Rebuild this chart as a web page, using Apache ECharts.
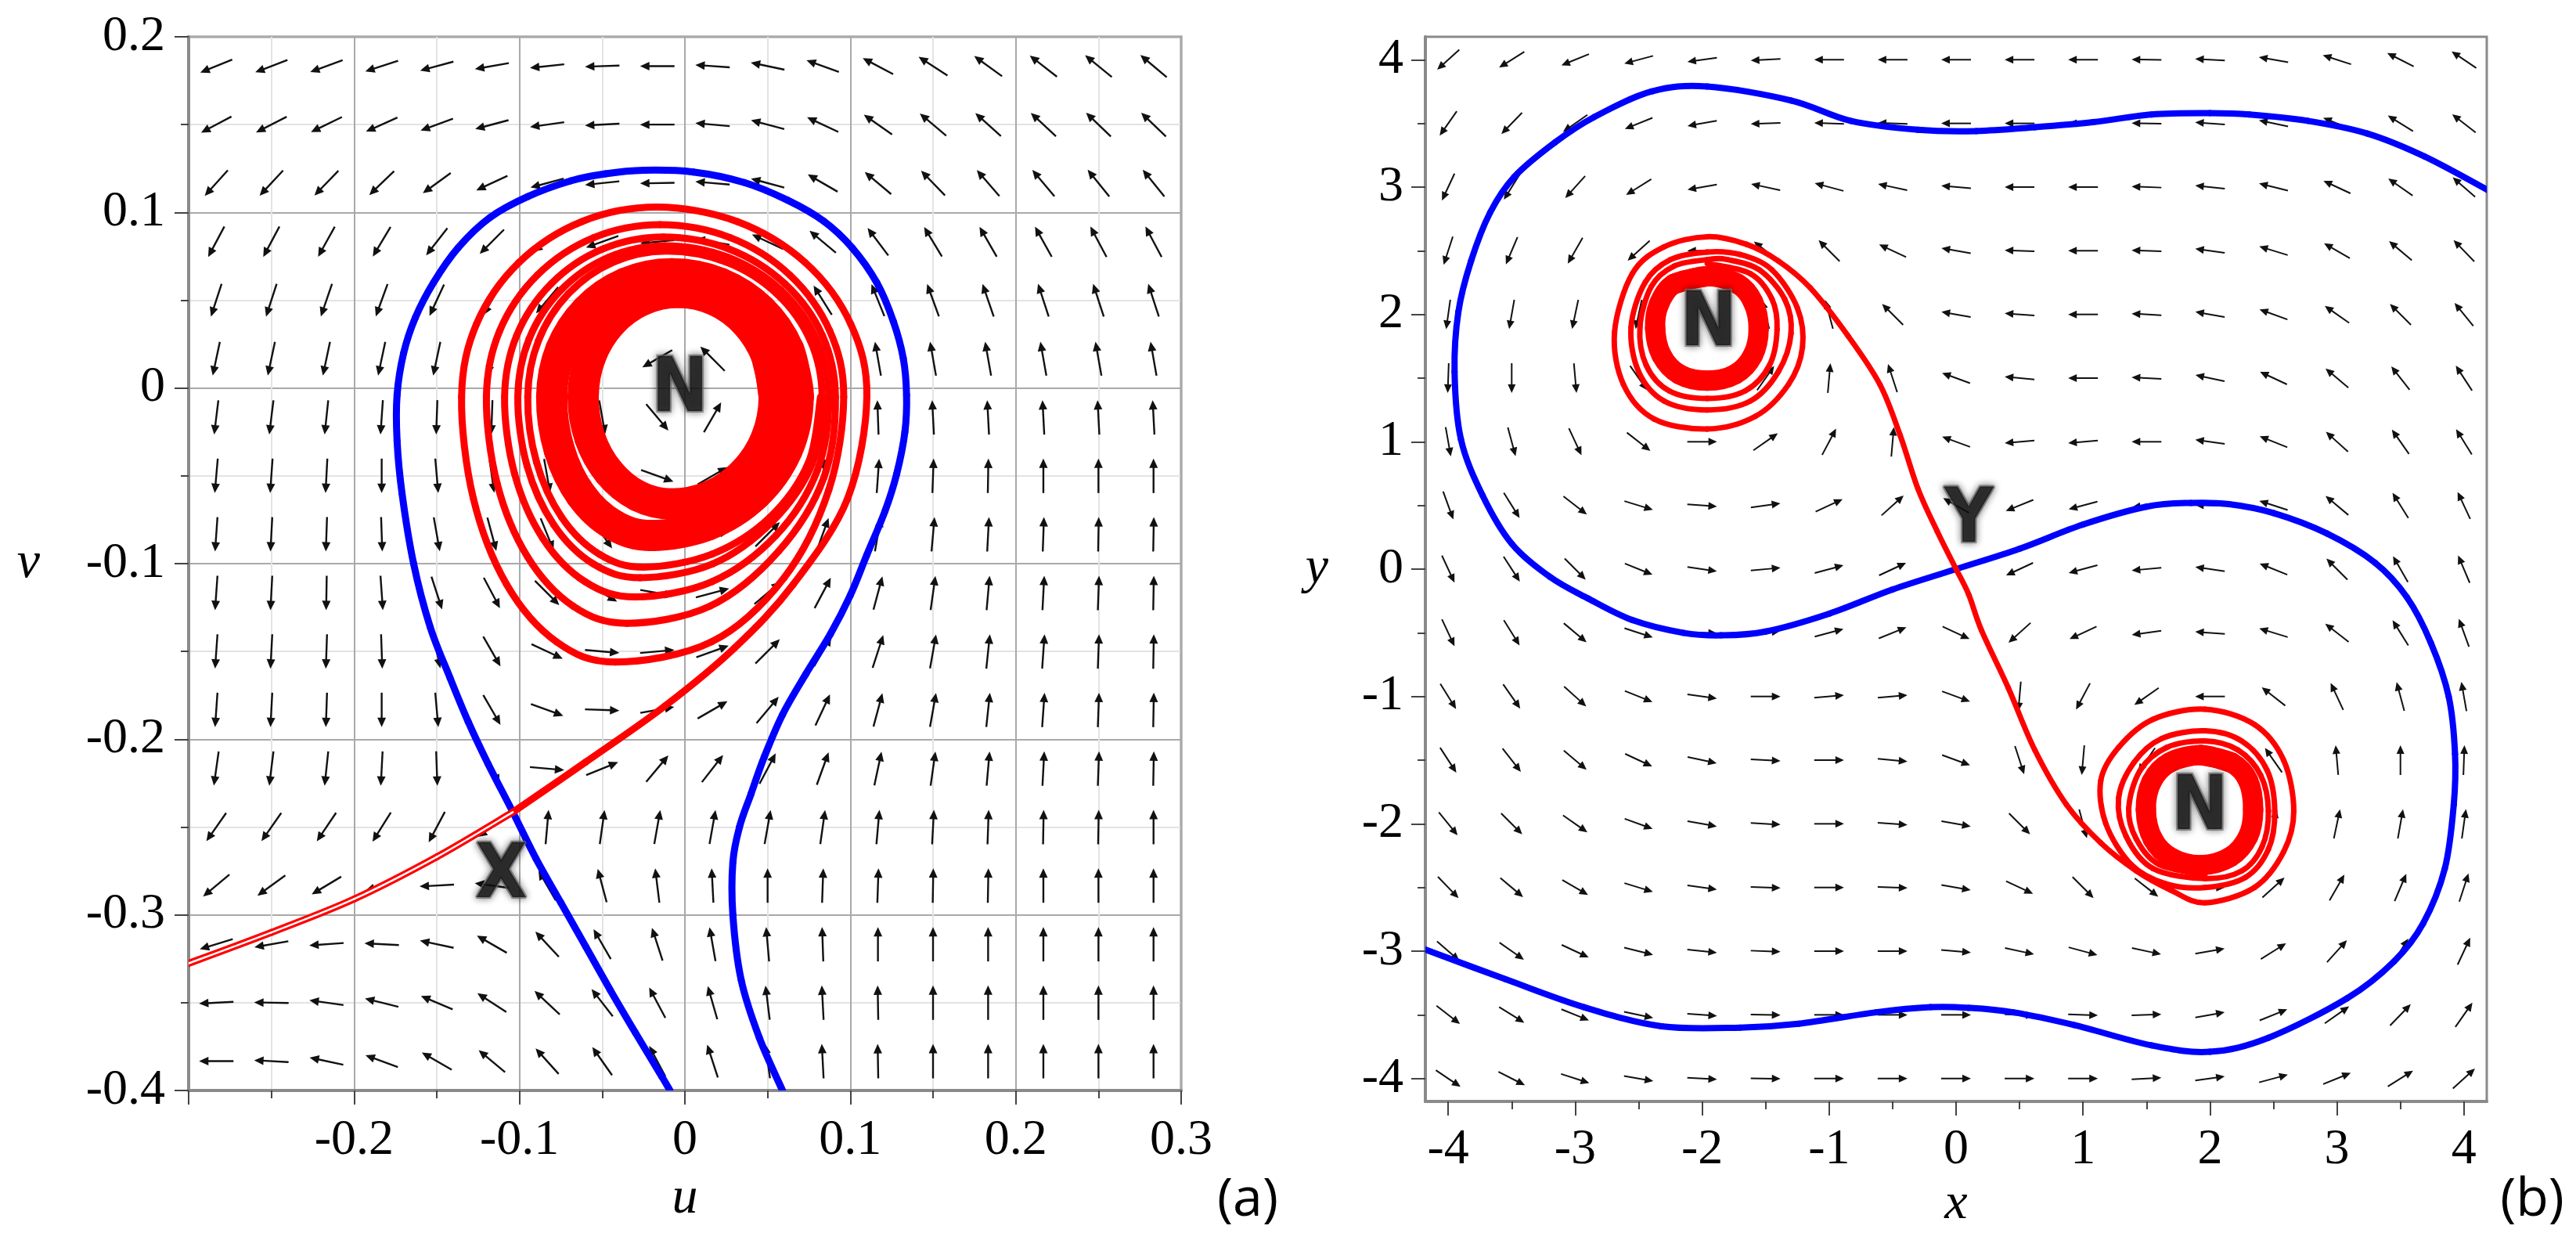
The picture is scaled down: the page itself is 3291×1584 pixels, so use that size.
<!DOCTYPE html>
<html><head><meta charset="utf-8">
<script src="https://cdn.jsdelivr.net/npm/echarts/dist/echarts.min.js"></script>
<style>html,body{margin:0;padding:0;background:#fff}#c{width:3291px;height:1584px}</style>
</head><body><div id="c"></div>
<script>
// ---------------- Panel (a) data ----------------
const uArrowA = [-0.2833,-0.25,-0.2167,-0.1833,-0.15,-0.1167,-0.0833,-0.05,-0.0167,0.0167,0.05,0.0833,0.1167,0.15,0.1833,0.2167,0.25,0.2833];
const vArrowA = [0.1833,0.15,0.1167,0.0833,0.05,0.0167,-0.0167,-0.05,-0.0833,-0.1167,-0.15,-0.1833,-0.2167,-0.25,-0.2833,-0.3167,-0.35,-0.3833];
// arrow direction on screen, degrees (0 = right, 90 = up), rows top->bottom
const angleA = [
[202,201,200,198,195,190,186,182,180,176,168,160,152,147,144,142,141,140],
[208,207,206,204,200,195,188,183,180,175,165,155,145,140,138,137,136,136],
[228,227,226,224,216,205,195,186,181,175,165,150,140,134,131,130,129,129],
[242,242,241,239,232,225,215,200,185,170,155,140,127,121,120,119,118,118],
[252,252,251,250,245,240,230,215,190,165,140,122,112,110,109,108,108,108],
[258,258,258,258,258,255,250,240,210,135,110,100,100,100,100,100,100,100],
[263,263,264,266,268,268,265,280,310,60,80,90,92,93,93,93,93,93],
[265,266,267,270,275,278,280,305,340,30,70,82,86,88,89,90,90,90],
[266,267,268,272,280,285,292,305,330,10,45,70,80,85,87,88,89,89],
[266,267,269,274,288,298,315,330,350,15,40,62,75,82,85,87,88,89],
[266,267,268,272,282,300,335,355,5,20,45,60,72,80,84,86,88,89],
[266,267,268,270,275,300,340,358,10,30,50,65,75,80,84,86,88,89],
[262,263,264,267,272,297,355,22,50,52,62,70,78,82,85,87,88,89],
[235,235,236,238,242,215,85,82,80,80,80,82,85,87,88,89,89,90],
[220,216,211,198,183,172,120,105,97,93,90,88,88,89,89,90,90,90],
[197,190,184,177,168,150,133,120,108,100,95,92,90,90,90,90,90,90],
[183,179,172,166,157,147,137,128,118,106,97,93,91,90,90,90,90,90],
[180,177,168,160,150,140,132,125,118,108,98,93,91,90,90,90,90,90]
];
const blueA = [[0.059,-0.400],[0.045,-0.370],[0.034,-0.337],[0.029,-0.300],[0.029,-0.270],[0.033,-0.250],[0.040,-0.231],[0.048,-0.210],[0.059,-0.186],[0.073,-0.163],[0.088,-0.140],[0.100,-0.118],[0.110,-0.095],[0.121,-0.070],[0.128,-0.049],[0.133,-0.025],[0.134,-0.004],[0.132,0.017],[0.126,0.038],[0.116,0.060],[0.101,0.080],[0.084,0.095],[0.062,0.107],[0.036,0.117],[0.005,0.123],[-0.025,0.124],[-0.048,0.122],[-0.069,0.118],[-0.095,0.109],[-0.118,0.097],[-0.137,0.080],[-0.152,0.060],[-0.163,0.040],[-0.170,0.020],[-0.174,-0.004],[-0.174,-0.030],[-0.171,-0.060],[-0.164,-0.100],[-0.154,-0.136],[-0.142,-0.165],[-0.131,-0.190],[-0.119,-0.214],[-0.104,-0.2415],[-0.090,-0.268],[-0.075,-0.293],[-0.060,-0.318],[-0.045,-0.343],[-0.030,-0.367],[-0.014,-0.392],[-0.009,-0.400]];
const redLeftA = [[-0.304,-0.329],[-0.250,-0.310],[-0.200,-0.291],[-0.150,-0.267],[-0.104,-0.2415]];
const redSpiralA = [[-0.104,-0.2415],[-0.060,-0.213],[-0.012,-0.181],[0.030,-0.148],[0.0655,-0.1118],[0.0984,-0.0628],
[0.110,-0.005],[0.1003,0.0364],[0.0728,0.0714],[0.0316,0.0948],[-0.017,0.103],[-0.0622,0.0948],[-0.1004,0.0714],[-0.126,0.0364],[-0.135,-0.005],[-0.1279,-0.0628],[-0.1078,-0.1118],[-0.0776,-0.1445],[-0.042,-0.156],[0.0162,-0.1445],[0.0600,-0.108],[0.087,-0.058],
[0.096,-0.005],[0.0876,0.0325],[0.0635,0.0643],[0.0275,0.0856],[-0.015,0.093],[-0.0552,0.0856],[-0.0892,0.0643],[-0.112,0.0325],[-0.120,-0.005],[-0.1135,-0.0544],[-0.0951,-0.0962],[-0.0676,-0.1242],[-0.035,-0.134],[0.0152,-0.1242],[0.0566,-0.093],[0.084,-0.051],
[0.091,-0.005],[0.0831,0.0299],[0.0605,0.0593],[0.0268,0.0791],[-0.013,0.086],[-0.0498,0.0791],[-0.0809,0.0593],[-0.1017,0.0299],[-0.109,-0.005],[-0.103,-0.0487],[-0.0859,-0.0856],[-0.0603,-0.1103],[-0.030,-0.119],[0.0163,-0.1103],[0.0550,-0.084],[0.080,-0.047],
[0.087,-0.005],[0.0795,0.0279],[0.058,0.0558],[0.0259,0.0745],[-0.012,0.081],[-0.0461,0.0745],[-0.0749,0.0558],[-0.0942,0.0279],[-0.101,-0.005],[-0.0954,-0.0444],[-0.0793,-0.0778],[-0.0553,-0.1002],[-0.027,-0.108],[0.0167,-0.1002],[0.0530,-0.076],[0.077,-0.043],
[0.083,-0.005],[0.0759,0.0268],[0.0555,0.0537],[0.025,0.0717],[-0.011,0.078],[-0.0432,0.0717],[-0.0704,0.0537],[-0.0886,0.0268],[-0.095,-0.005],[-0.0897,-0.0422],[-0.0745,-0.0736],[-0.0518,-0.0946],[-0.025,-0.102],[0.0164,-0.0946],[0.0514,-0.0736],[0.0748,-0.0422],[0.082,-0.005]];
const bandOuterA = [[0.0685,-0.005],[0.0627,0.0218],[0.0461,0.0445],[0.0213,0.0597],[-0.008,0.065],[-0.0358,0.0597],[-0.0593,0.0445],[-0.075,0.0218],[-0.0805,-0.005],[-0.0759,-0.0353],[-0.0628,-0.0609],[-0.0432,-0.078],[-0.020,-0.084],[0.0139,-0.078],[0.0426,-0.0609],[0.0618,-0.0353],[0.0685,-0.005],[0.0627,0.0218]];
const bandInnerA = [[0.054,-0.005],[0.0496,0.0178],[0.037,0.0371],[0.0182,0.050],[-0.004,0.0545],[-0.026,0.050],[-0.0447,0.0371],[-0.0571,0.0178],[-0.0615,-0.005],[-0.0574,-0.0284],[-0.0458,-0.0481],[-0.0285,-0.0614],[-0.008,-0.066],[0.0157,-0.0614],[0.0358,-0.0481],[0.0493,-0.0284],[0.054,-0.005],[0.0496,0.0178]];
const labelTextA = ['N','X'];
const labelPosA = [[-0.003,-0.002],[-0.111,-0.279]];

// ---------------- Panel (b) data ----------------
const xArrowB = [-4,-3.5,-3,-2.5,-2,-1.5,-1,-0.5,0,0.5,1,1.5,2,2.5,3,3.5,4];
const yArrowB = [4,3.5,3,2.5,2,1.5,1,0.5,0,-0.5,-1,-1.5,-2,-2.5,-3,-3.5,-4];
const angleB = [
[222,212,202,195,188,183,180,180,180,180,180,179,177,170,162,153,146],
[235,226,215,202,190,182,178,178,180,180,180,179,176,168,158,148,142],
[245,238,228,212,190,168,165,168,175,180,180,178,174,166,155,145,139],
[252,247,240,222,180,142,135,155,170,178,180,178,172,163,150,140,134],
[262,260,258,258,null,104,105,135,170,176,180,177,170,160,145,135,129],
[268,270,275,305,0,55,85,108,160,175,180,177,168,155,140,128,123],
[280,285,295,322,0,35,62,85,160,185,185,180,172,158,138,125,122],
[290,302,322,343,356,8,25,42,150,202,195,188,178,162,140,122,115],
[295,303,315,338,352,5,15,25,null,205,195,185,172,158,135,120,113],
[295,302,320,342,358,8,15,22,335,222,205,188,176,163,142,122,110],
[302,305,318,338,352,0,5,5,340,265,242,215,180,142,115,105,100],
[303,308,320,335,348,357,0,355,340,288,265,235,180,125,95,90,88],
[309,315,325,340,350,357,0,356,350,315,285,284,null,78,78,80,82],
[314,320,330,343,352,358,0,358,350,335,315,322,0,42,60,67,72],
[319,325,335,346,354,358,0,0,355,348,345,348,10,32,48,58,65],
[322,328,338,348,356,359,0,0,0,358,358,2,10,22,35,46,55],
[326,333,342,350,357,359,0,0,0,0,0,3,8,15,22,32,42]
];
const blueB = [[4.2,2.97],[3.69,3.24],[3.24,3.42],[2.77,3.52],[2.31,3.57],[2.00,3.58],[1.54,3.57],[1.08,3.51],[0.62,3.47],[0.16,3.44],[-0.30,3.45],[-0.83,3.52],[-1.30,3.68],[-1.96,3.79],[-2.40,3.75],[-2.85,3.55],[-3.16,3.35],[-3.48,3.08],[-3.67,2.80],[-3.82,2.42],[-3.92,2.02],[-3.95,1.55],[-3.90,1.02],[-3.73,0.58],[-3.50,0.20],[-3.20,-0.06],[-2.90,-0.23],[-2.55,-0.40],[-2.15,-0.50],[-1.85,-0.52],[-1.50,-0.49],[-1.00,-0.35],[-0.50,-0.16],[0,0],[0.50,0.16],[1.00,0.35],[1.50,0.49],[1.85,0.52],[2.15,0.51],[2.50,0.44],[2.92,0.28],[3.30,0.05],[3.55,-0.22],[3.74,-0.58],[3.88,-1.00],[3.93,-1.45],[3.92,-1.85],[3.85,-2.35],[3.68,-2.78],[3.45,-3.08],[3.08,-3.37],[2.46,-3.68],[2.00,-3.79],[1.54,-3.74],[0.93,-3.58],[0.45,-3.48],[0.10,-3.445],[-0.20,-3.44],[-0.63,-3.48],[-1.24,-3.57],[-1.70,-3.60],[-2.32,-3.59],[-2.93,-3.44],[-3.55,-3.22],[-4.2,-2.98]];
const redB1 = [[0,0],[-0.15,0.30],[-0.30,0.63],[-0.44,1.05],[-0.60,1.45],[-0.85,1.83],[-1.15,2.21],[-1.40,2.42],[-1.65,2.55],[-1.96,2.61],[-2.30,2.53],[-2.55,2.32],[-2.69,1.86],[-2.62,1.45],[-2.38,1.18],[-1.96,1.10],[-1.58,1.20],[-1.32,1.45],[-1.21,1.74],[-1.25,2.05],[-1.45,2.35],[-1.70,2.47],[-1.96,2.49],[-2.25,2.43],[-2.45,2.25],[-2.56,1.90],[-2.50,1.55],[-2.30,1.32],[-1.96,1.25],[-1.62,1.32],[-1.40,1.55],[-1.30,1.85],[-1.35,2.12],[-1.55,2.35],[-1.80,2.43],[-1.96,2.43],[-2.22,2.38],[-2.40,2.22],[-2.49,1.90],[-2.44,1.60],[-2.26,1.40],[-1.96,1.34],[-1.66,1.40],[-1.47,1.60],[-1.41,1.88],[-1.45,2.12],[-1.62,2.32],[-1.96,2.40]];
const bandB1 = [[-1.96,2.30],[-2.22,2.24],[-2.34,2.08],[-2.37,1.89],[-2.32,1.68],[-2.18,1.53],[-1.96,1.48],[-1.74,1.53],[-1.60,1.68],[-1.555,1.89],[-1.60,2.10],[-1.72,2.24],[-1.96,2.30],[-2.22,2.24]];
const redB2 = [[0,0],[0.10,-0.20],[0.20,-0.48],[0.41,-0.93],[0.62,-1.42],[0.87,-1.85],[1.14,-2.15],[1.42,-2.37],[1.69,-2.52],[1.96,-2.62],[2.35,-2.50],[2.58,-2.22],[2.66,-1.90],[2.58,-1.50],[2.35,-1.22],[1.96,-1.10],[1.55,-1.18],[1.28,-1.40],[1.14,-1.66],[1.18,-2.00],[1.38,-2.32],[1.65,-2.47],[1.96,-2.50],[2.28,-2.42],[2.46,-2.20],[2.51,-1.90],[2.45,-1.58],[2.25,-1.35],[1.96,-1.27],[1.62,-1.33],[1.40,-1.52],[1.28,-1.80],[1.34,-2.10],[1.55,-2.35],[1.96,-2.43],[2.25,-2.37],[2.41,-2.18],[2.46,-1.90],[2.40,-1.62],[2.22,-1.42],[1.96,-1.35],[1.66,-1.40],[1.45,-1.58],[1.36,-1.88],[1.42,-2.12],[1.60,-2.32],[1.96,-2.40]];
const bandB2 = [[1.93,-1.46],[2.17,-1.52],[2.30,-1.66],[2.34,-1.89],[2.30,-2.10],[2.16,-2.26],[1.93,-2.325],[1.70,-2.27],[1.55,-2.12],[1.495,-1.89],[1.54,-1.67],[1.68,-1.52],[1.93,-1.46],[2.17,-1.52]];
const labelTextB = ['N','N','Y'];
const labelPosB = [[-1.95,1.91],[1.92,-1.89],[0.10,0.37]];
const tickValuesB = [-4,-3,-2,-1,0,1,2,3,4];
const minorTicksB = [-3.5,-2.5,-1.5,-0.5,0.5,1.5,2.5,3.5];

// ---------------- build ----------------
function buildField(xs, ys, ang) {
  const out = [];
  ys.forEach((y, j) => xs.forEach((x, i) => { const a = ang[j][i]; if (a !== null) out.push([x, y, a]); }));
  return out;
}
function arrowRender(len, head, hw, lw) {
  return function (params, api) {
    const p = api.coord([api.value(0), api.value(1)]);
    const a = api.value(2) * Math.PI / 180;
    const dx = Math.cos(a), dy = -Math.sin(a);
    const tx = p[0] - dx * len / 2, ty = p[1] - dy * len / 2;
    const hx = p[0] + dx * len / 2, hy = p[1] + dy * len / 2;
    const bx = hx - dx * head, by = hy - dy * head;
    const nx = -dy, ny = dx;
    return { type: 'group', children: [
      { type: 'line', shape: { x1: tx, y1: ty, x2: bx + dx * 2, y2: by + dy * 2 }, style: { stroke: '#111', lineWidth: lw } },
      { type: 'polygon', shape: { points: [[hx, hy], [bx + nx * hw, by + ny * hw], [bx - nx * hw, by - ny * hw]] }, style: { fill: '#111' } }
    ] };
  };
}
// smooth curve through the data points (Catmull-Rom in screen space), positioned with api.coord
function curveSeries(points, color, width, xi, z) {
  return { type: 'custom', xAxisIndex: xi, yAxisIndex: xi, z: z, silent: true, clip: true,
    encode: { x: 0, y: 1 }, data: [[points[0][0], points[0][1]]],
    renderItem: function (params, api) {
      const pts = points.map(p => api.coord(p));
      const kids = [];
      for (let i = 0; i < pts.length - 1; i++) {
        const p0 = pts[i - 1] || pts[i], p1 = pts[i], p2 = pts[i + 1], p3 = pts[i + 2] || pts[i + 1];
        kids.push({ type: 'bezierCurve', shape: {
          x1: p1[0], y1: p1[1], x2: p2[0], y2: p2[1],
          cpx1: p1[0] + (p2[0] - p0[0]) / 6, cpy1: p1[1] + (p2[1] - p0[1]) / 6,
          cpx2: p2[0] - (p3[0] - p1[0]) / 6, cpy2: p2[1] - (p3[1] - p1[1]) / 6 },
          style: { stroke: color, lineWidth: width, fill: null, lineCap: 'round', lineJoin: 'round' } });
      }
      return { type: 'group', children: kids };
    } };
}
const serifFont = "'Liberation Serif','DejaVu Serif',serif";
const labelFont = "'Liberation Sans Narrow','DejaVu Sans Condensed','Liberation Sans',sans-serif";
function axisCommon(extra) {
  return Object.assign({
    type: 'value',
    axisLine: { show: true, onZero: false, lineStyle: { color: '#8a8a8a', width: 4 } },
    axisTick: { show: true, inside: false, length: 18, lineStyle: { color: '#444', width: 2 } },
    axisLabel: { fontFamily: serifFont, fontSize: 64, color: '#000' },
    nameLocation: 'middle',
    nameTextStyle: { fontFamily: serifFont, fontStyle: 'italic', fontSize: 66, color: '#000' }
  }, extra);
}
function labelSeries(pos, txt, xi) {
  return { type: 'scatter', xAxisIndex: xi, yAxisIndex: xi, symbolSize: 0, z: 20, silent: true,
    data: pos.map((p, i) => ({ value: p, name: txt[i] })),
    label: { show: true, position: 'inside', formatter: '{b}', fontFamily: labelFont, fontWeight: 'bold', fontSize: 96, color: '#111',
      textBorderColor: 'rgba(120,120,120,0.9)', textBorderWidth: 4, textShadowColor: 'rgba(0,0,0,0.55)', textShadowBlur: 10 } };
}

const chart = echarts.init(document.getElementById('c'), null, { renderer: 'canvas', width: 3291, height: 1584 });
chart.setOption({
  animation: false,
  backgroundColor: '#fff',
  grid: [
    { left: 241, top: 47, width: 1268, height: 1346, show: true, borderColor: '#8a8a8a', borderWidth: 3, backgroundColor: 'transparent' },
    { left: 1821, top: 47, width: 1356, height: 1360, show: true, borderColor: '#8a8a8a', borderWidth: 3, backgroundColor: 'transparent' }
  ],
  xAxis: [
    axisCommon({ gridIndex: 0, min: -0.3, max: 0.3, interval: 0.1, position: 'bottom',
      axisLabel: { fontFamily: serifFont, fontSize: 64, color: '#000', margin: 32, showMinLabel: false },
      minorTick: { show: true, splitNumber: 2, length: 10, lineStyle: { color: '#444', width: 2 } },
      splitLine: { show: true, lineStyle: { color: '#a9a9a9', width: 2 } },
      minorSplitLine: { show: true, lineStyle: { color: '#e3e3e3', width: 2 } },
      name: 'u', nameGap: 106 }),
    axisCommon({ gridIndex: 1, min: -4.18, max: 4.18, splitNumber: 8, minInterval: 1, maxInterval: 1, position: 'bottom',
      axisTick: { show: true, length: 18, customValues: tickValuesB, lineStyle: { color: '#444', width: 2 } },
      axisLabel: { fontFamily: serifFont, fontSize: 64, color: '#000', margin: 30, customValues: tickValuesB },
      splitLine: { show: false }, name: 'x', nameGap: 94 }),
    { type: 'value', gridIndex: 1, min: -4.18, max: 4.18, position: 'bottom', offset: 0,
      axisLine: { show: false, onZero: false }, axisLabel: { show: false }, splitLine: { show: false },
      axisTick: { show: true, length: 10, customValues: minorTicksB, lineStyle: { color: '#444', width: 2 } } }
  ],
  yAxis: [
    axisCommon({ gridIndex: 0, min: -0.4, max: 0.2, interval: 0.1, position: 'left',
      axisLabel: { fontFamily: serifFont, fontSize: 64, color: '#000', margin: 30 },
      minorTick: { show: true, splitNumber: 2, length: 10, lineStyle: { color: '#444', width: 2 } },
      splitLine: { show: true, lineStyle: { color: '#a9a9a9', width: 2 } },
      minorSplitLine: { show: true, lineStyle: { color: '#e3e3e3', width: 2 } },
      name: 'v', nameRotate: 0, nameGap: 190 }),
    axisCommon({ gridIndex: 1, min: -4.18, max: 4.18, splitNumber: 8, minInterval: 1, maxInterval: 1, position: 'left',
      axisTick: { show: true, length: 18, customValues: tickValuesB, lineStyle: { color: '#444', width: 2 } },
      axisLabel: { fontFamily: serifFont, fontSize: 64, color: '#000', margin: 28, customValues: tickValuesB },
      splitLine: { show: false }, name: 'y', nameRotate: 0, nameGap: 124 }),
    { type: 'value', gridIndex: 1, min: -4.18, max: 4.18, position: 'left', offset: 0,
      axisLine: { show: false, onZero: false }, axisLabel: { show: false }, splitLine: { show: false },
      axisTick: { show: true, length: 10, customValues: minorTicksB, lineStyle: { color: '#444', width: 2 } } }
  ],
  graphic: [
    { type: 'text', x: 1594, y: 1534, z: 50, style: { text: '(a)', font: "68px 'Open Sans'", fill: '#000', align: 'center', verticalAlign: 'middle', textAlign: 'center', textVerticalAlign: 'middle' } },
    { type: 'text', x: 3235, y: 1534, z: 50, style: { text: '(b)', font: "68px 'Open Sans'", fill: '#000', align: 'center', verticalAlign: 'middle', textAlign: 'center', textVerticalAlign: 'middle' } }
  ],
  series: [
    { type: 'custom', xAxisIndex: 0, yAxisIndex: 0, z: 2, silent: true, clip: true, renderItem: arrowRender(44, 12, 5.5, 2.4), encode: { x: 0, y: 1 }, data: buildField(uArrowA, vArrowA, angleA) },
    { type: 'custom', xAxisIndex: 1, yAxisIndex: 1, z: 2, silent: true, clip: true, renderItem: arrowRender(38, 11, 5, 2.0), encode: { x: 0, y: 1 }, data: buildField(xArrowB, yArrowB, angleB) },
    curveSeries(blueA, '#0000ff', 9, 0, 3),
    curveSeries(redLeftA, '#ff0000', 9, 0, 4),
    curveSeries(redLeftA, '#ffffff', 2.5, 0, 5),
    curveSeries(bandOuterA, '#ff0000', 40, 0, 4),
    curveSeries(bandInnerA, '#ff0000', 40, 0, 4),
    curveSeries(redSpiralA, '#ff0000', 9, 0, 4),
    curveSeries(blueB, '#0000ff', 8, 1, 3),
    curveSeries(bandB1, '#ff0000', 26, 1, 4),
    curveSeries(bandB2, '#ff0000', 26, 1, 4),
    curveSeries(redB1, '#ff0000', 7, 1, 4),
    curveSeries(redB2, '#ff0000', 7, 1, 4),
    labelSeries(labelPosA, labelTextA, 0),
    labelSeries(labelPosB, labelTextB, 1)
  ]
});
</script></body></html>
